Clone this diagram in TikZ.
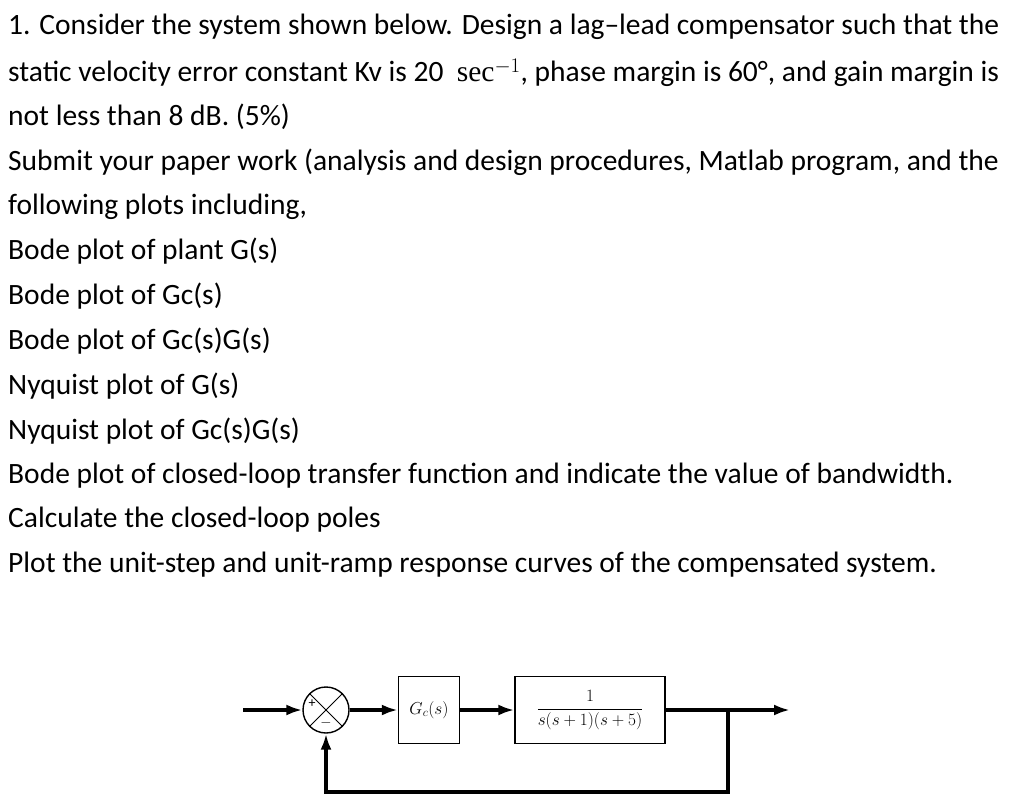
\documentclass[tikz,border=0pt]{standalone}
\usepackage{fontspec}
\setmainfont{Carlito}
\newfontfamily\tms{Liberation Serif}
\usetikzlibrary{arrows.meta}
\begin{document}
\begin{tikzpicture}[x=1pt,y=-1pt]
    \tikzstyle{txt_line}=[anchor=west, inner sep=0pt, font=\fontsize{29.5}{29.5}\selectfont]
    \tikzstyle{blk}=[draw, line width=1.4pt, minimum height=67pt, font=\tms\fontsize{17}{17}\selectfont]
    \tikzstyle{sig}=[line width=3.5pt, -{Latex[length=16pt,width=11pt]}]
    \useasboundingbox (0,0) rectangle (1024,811);

    % --- text ---
    \node[txt_line] (l1) at (8,27) {1. Consider the system shown below. Design a lag–lead compensator such that the};
    \node[txt_line] (l2) at (8,73) {static velocity error constant Kv is 20 \ {\tms sec}$^{-1}$, phase margin is 60°, and gain margin is};
    \node[txt_line] (l3) at (8,117) {not less than 8 dB. (5\%)};
    \node[txt_line] (l4) at (8,162) {Submit your paper work (analysis and design procedures, Matlab program, and the};
    \node[txt_line] (l5) at (8,207) {following plots including,};
    \node[txt_line] (l6) at (8,251) {Bode plot of plant G(s)};
    \node[txt_line] (l7) at (8,296) {Bode plot of Gc(s)};
    \node[txt_line] (l8) at (8,341) {Bode plot of Gc(s)G(s)};
    \node[txt_line] (l9) at (8,386) {Nyquist plot of G(s)};
    \node[txt_line] (l10) at (8,431) {Nyquist plot of Gc(s)G(s)};
    \node[txt_line] (l11) at (8,476) {Bode plot of closed-loop transfer function and indicate the value of bandwidth.};
    \node[txt_line] (l12) at (8,520) {Calculate the closed-loop poles};
    \node[txt_line] (l13) at (8,565) {Plot the unit-step and unit-ramp response curves of the compensated system.};

    % --- block diagram ---
    \coordinate (in) at (243,710);
    \node[draw, line width=1.4pt, circle, minimum size=46pt, inner sep=0pt] (sum) at (326,710) {};
    \draw[line width=1pt] (sum.north west) -- (sum.south east);
    \draw[line width=1pt] (sum.north east) -- (sum.south west);
    \node[font=\fontsize{14}{14}\selectfont] at (312,704) {+};
    \node[font=\fontsize{14}{14}\selectfont] at (326,723) {$-$};
    \node[blk, minimum width=61pt] (gc) at (429,710) {$G_c(s)$};
    \node[blk, minimum width=150pt] (gp) at (590,710) {$\displaystyle\frac{1}{s(s+1)(s+5)}$};
    \coordinate (br) at (728,710);
    \coordinate (out) at (790,710);
    \coordinate (fb) at (728,792);
    \coordinate (fbl) at (326,792);

    \draw[sig] (in) -- (sum);
    \draw[sig] (sum) -- (gc);
    \draw[sig] (gc) -- (gp);
    \draw[sig] (gp) -- (out);
    \draw[sig] (br) -- (fb) -- (fbl) -- (sum);
\end{tikzpicture}
\end{document}
